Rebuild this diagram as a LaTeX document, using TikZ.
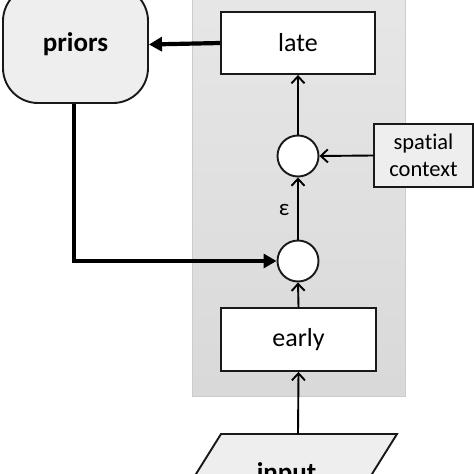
\documentclass[tikz,border=0pt]{standalone}
\usepackage{fontspec}
\setmainfont{Carlito}[Ligatures={NoCommon}]
\usetikzlibrary{arrows.meta,positioning,calc}
\begin{document}
\begin{tikzpicture}[x=1pt,y=-1pt,
  box/.style={draw=black!90,line width=1.9pt,fill=white,minimum width=154pt,minimum height=62pt,inner sep=0pt,font=\fontsize{26}{31}\selectfont},
  sumnode/.style={draw=black!90,line width=1.9pt,fill=white,circle,minimum size=41pt,inner sep=0pt},
  graybox/.style={draw=black!90,line width=1.9pt,fill=gray!13,inner sep=0pt},
  thinarrow/.style={line width=1.9pt,-{Straight Barb[length=7pt,width=13pt,line width=1.9pt]}},
  thickarrow/.style={line width=4.2pt,-{Triangle[length=13pt,width=14pt]}}
]
\clip (0,0) rectangle (474,474);
% panel
\shade[top color=gray!19,bottom color=gray!30,draw=gray!40,line width=0.8pt] (192,-10) rectangle (405,396);
% nodes
\node[box] (late) at (298,43) {late};
\node[box,minimum width=155pt,minimum height=63pt] (early) at (298.5,339.5) {early};
\node[sumnode] (c1) at (298,156) {};
\node[sumnode] (c2) at (298,261) {};
\node[graybox,minimum width=99pt,minimum height=63pt,align=center,font=\fontsize{22.5}{27}\selectfont] (spatial) at (423.5,155.5) {spatial\\context};
\node[graybox,rounded corners=35pt,minimum width=145pt,minimum height=117pt,font=\bfseries\fontsize{27}{32}\selectfont] (priors) at (75.5,44.5) {priors};
\draw[draw=black!90,line width=1.9pt,fill=gray!13] (221,434) -- (397,434) -- (350.75,508) -- (174.75,508) -- cycle;
\node[anchor=base,font=\bfseries\fontsize{27}{32}\selectfont,inner sep=0pt] (input) at (286.5,481) {input};
\coordinate (intop) at (298,434);
\node[font=\fontsize{23}{27}\selectfont,inner sep=0pt] (eps) at (284,210) {ε};
% connectors
\draw[thinarrow] (intop) -- (early.south);
\draw[thinarrow] (early.north) -- (c2.south);
\draw[thinarrow] (c2.north) -- (c1.south);
\draw[thinarrow] (c1.north) -- (late.south);
\draw[thinarrow] (spatial.west) -- (c1.east);
\draw[thickarrow] (late.west) -- (priors.east);
\draw[thickarrow] ([xshift=-1.5pt]priors.south) -- ([xshift=-1.5pt]priors.south |- c2.west) -- (c2.west);
\end{tikzpicture}
\end{document}
